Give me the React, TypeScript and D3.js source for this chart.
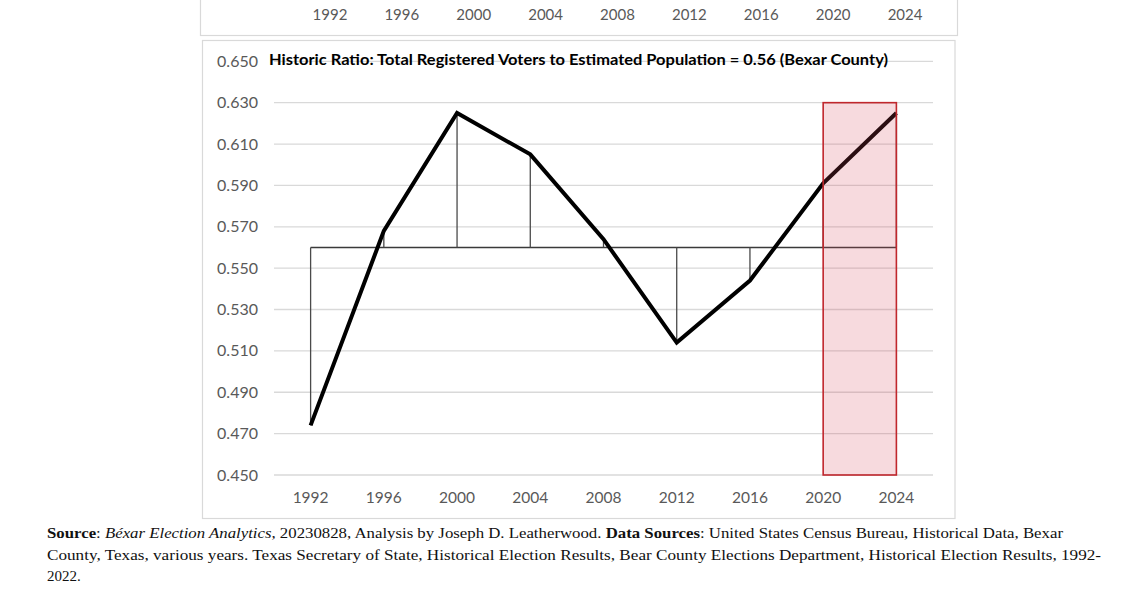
import * as d3 from "d3";

// values
const years = ["1992", "1996", "2000", "2004", "2008", "2012", "2016", "2020", "2024"];
const ratios = [0.474, 0.568, 0.625, 0.605, 0.564, 0.514, 0.544, 0.591, 0.625];
const historicRatio = 0.56;
const yTicks = [0.45, 0.47, 0.49, 0.51, 0.53, 0.55, 0.57, 0.59, 0.61, 0.63, 0.65];
const highlight = { from: "2020", to: "2024", low: 0.45, high: 0.63 };
const title =
  "Historic Ratio: Total Registered Voters to Estimated Population = 0.56 (Bexar County)";

const W = 1125;
const H = 600;
const plot = { left: 274, right: 933, top: 61.3, bottom: 475 };
const axisColor = "#595959";
const labelFont = "Lato, 'Open Sans', sans-serif";
const serif = "'Liberation Serif', 'DejaVu Serif', serif";

export default function App() {
  const x = d3.scaleBand<string>().domain(years).range([plot.left, plot.right]);
  const cx = (yr: string) => (x(yr) ?? 0) + x.bandwidth() / 2;
  // top strip belongs to another chart, its labels sit a bit to the right
  const xTop = d3.scaleBand<string>().domain(years).range([294, 941]);
  const y = d3.scaleLinear().domain([0.45, 0.65]).range([plot.bottom, plot.top]);

  const line = d3
    .line<number>()
    .x((_d, i) => cx(years[i]))
    .y((d) => y(d));

  const baseY = y(historicRatio);

  return (
    <>
      <style>{"body{margin:0;background:#fff}"}</style>
      <svg width={W} height={H} style={{ display: "block" }}>
        <rect width={W} height={H} fill="#fff" />

        {/* bottom of the chart above */}
        <rect x={200.5} y={-2} width={757} height={37.5} fill="#fff" stroke="#d9d9d9" strokeWidth={1.2} />
        {years.map((yr) => (
          <text
            key={"t" + yr}
            x={(xTop(yr) ?? 0) + xTop.bandwidth() / 2}
            y={19.5}
            textAnchor="middle"
            fontFamily={labelFont}
            fontSize={15}
            fill={axisColor}
          >
            {yr}
          </text>
        ))}

        {/* chart frame */}
        <rect x={202.5} y={40.5} width={752.5} height={478} fill="#fff" stroke="#d9d9d9" strokeWidth={1.2} />

        {/* gridlines */}
        {yTicks.map((t) => (
          <line
            key={"g" + t}
            x1={plot.left}
            x2={plot.right}
            y1={y(t)}
            y2={y(t)}
            stroke="#d9d9d9"
            strokeWidth={1.3}
          />
        ))}
        {yTicks.map((t) => (
          <text
            key={"y" + t}
            x={258}
            y={y(t) + 5.5}
            textAnchor="end"
            fontFamily={labelFont}
            fontSize={16}
            fill={axisColor}
          >
            {d3.format(".3f")(t)}
          </text>
        ))}
        {years.map((yr) => (
          <text
            key={"x" + yr}
            x={cx(yr)}
            y={502.5}
            textAnchor="middle"
            fontFamily={labelFont}
            fontSize={15.5}
            fill={axisColor}
          >
            {yr}
          </text>
        ))}

        {/* historic ratio line and drop lines */}
        <line x1={cx(years[0])} x2={cx(years[years.length - 1])} y1={baseY} y2={baseY} stroke="#3a3a3a" strokeWidth={1.4} />
        {ratios.map((v, i) => (
          <line
            key={"d" + i}
            x1={cx(years[i])}
            x2={cx(years[i])}
            y1={baseY}
            y2={y(v)}
            stroke="#4a4a4a"
            strokeWidth={1.3}
          />
        ))}

        <path d={line(ratios) ?? ""} fill="none" stroke="#000" strokeWidth={4} strokeLinejoin="miter" />

        {/* highlighted range */}
        <rect
          x={cx(highlight.from)}
          y={y(highlight.high)}
          width={cx(highlight.to) - cx(highlight.from)}
          height={y(highlight.low) - y(highlight.high)}
          fill="rgba(215, 70, 90, 0.2)"
          stroke="#c0272d"
          strokeWidth={1.6}
        />

        <text
          x={269}
          y={64.5}
          fontFamily={labelFont}
          fontWeight="bold"
          fontSize={14.5}
          fill="#000"
          textLength={619}
          lengthAdjust="spacingAndGlyphs"
        >
          {title}
        </text>

        {/* source note */}
        <text fontFamily={serif} fontSize={15} fill="#111">
          <tspan x={47} y={538} textLength={1016} lengthAdjust="spacingAndGlyphs">
            <tspan fontWeight="bold">Source</tspan>
            <tspan>: </tspan>
            <tspan fontStyle="italic">Béxar Election Analytics</tspan>
            <tspan>, 20230828, Analysis by Joseph D. Leatherwood. </tspan>
            <tspan fontWeight="bold">Data Sources</tspan>
            <tspan>: United States Census Bureau, Historical Data, Bexar</tspan>
          </tspan>
        </text>
        <text fontFamily={serif} fontSize={15} fill="#111" x={47} y={560} textLength={1054} lengthAdjust="spacingAndGlyphs">
          County, Texas, various years. Texas Secretary of State, Historical Election Results, Bear County Elections Department, Historical Election Results, 1992-
        </text>
        <text fontFamily={serif} fontSize={15} fill="#111" x={47} y={581}>
          2022.
        </text>
      </svg>
    </>
  );
}
